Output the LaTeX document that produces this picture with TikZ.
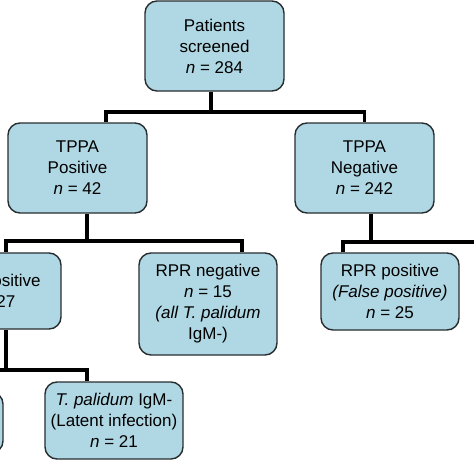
\documentclass[tikz,border=0pt]{standalone}
\usepackage{fontspec}
\setmainfont{Liberation Sans}
\definecolor{boxfill}{RGB}{176,216,228}
\definecolor{boxline}{RGB}{40,45,48}
\tikzset{
  flowbox/.style={draw=boxline, line width=1.4pt, fill=boxfill, rounded corners=12pt,
    inner sep=0pt, align=center, font=\fontsize{17}{21}\selectfont},
  conn/.style={draw=black, line width=3.2pt}
}
\begin{document}
\begin{tikzpicture}[x=1pt,y=-1pt]
\useasboundingbox (0,0) rectangle (474,474);
\fill[white] (0,0) rectangle (474,474);
\clip (0,0) rectangle (474,474);
% junction coordinates
\coordinate (j1) at (211,112);
\coordinate (j2) at (87,241);
\coordinate (j3) at (371,242);
\coordinate (j4) at (6,370);
\coordinate (e3) at (480,242);
\coordinate (e4) at (-10,370);
% nodes
\node[flowbox, minimum width=139pt, minimum height=90pt] (top) at (214.5,46)
  {Patients\\screened\\\textit{n} = 284};
\node[flowbox, minimum width=139pt, minimum height=90pt] (tpos) at (77.5,168)
  {TPPA\\Positive\\\textit{n} = 42};
\node[flowbox, minimum width=139pt, minimum height=90pt] (tneg) at (364.5,168)
  {TPPA\\Negative\\\textit{n} = 242};
\node[flowbox, minimum width=139pt, minimum height=76pt] (rposl) at (-8.5,291)
  {RPR positive\\\textit{n} = 27};
\node[flowbox, minimum width=138pt, minimum height=102pt] (rneg) at (208,304)
  {RPR negative\\\textit{n} = 15\\\textit{(all T. palidum}\\IgM-)};
\node[flowbox, minimum width=138pt, minimum height=77pt] (rposr) at (390,291.5)
  {RPR positive\\\textit{(False positive)}\\\textit{n} = 25};
\node[flowbox, minimum width=139pt, minimum height=61pt] (igmp) at (-66.5,422.5) {};
\node[flowbox, minimum width=138pt, minimum height=77pt] (igmn) at (114,420.5)
  {\textit{T. palidum} IgM-\\(Latent infection)\\\textit{n} = 21};
% connectors
\draw[conn] (top.south -| j1) -- (j1);
\draw[conn] (tpos.north -| 106,0) |- (j1) -| (tneg.north);
\draw[conn] (tpos.south -| j2) -- (j2);
\draw[conn] (rposl.north -| j4) |- (j2) -| (rneg.north -| 242,0);
\draw[conn] (tneg.south -| j3) -- (j3);
\draw[conn] (rposr.north -| 343,0) |- (e3);
\draw[conn] (rposl.south -| j4) -- (j4);
\draw[conn] (e4) -| (igmn.north -| 87,0);
\end{tikzpicture}
\end{document}
